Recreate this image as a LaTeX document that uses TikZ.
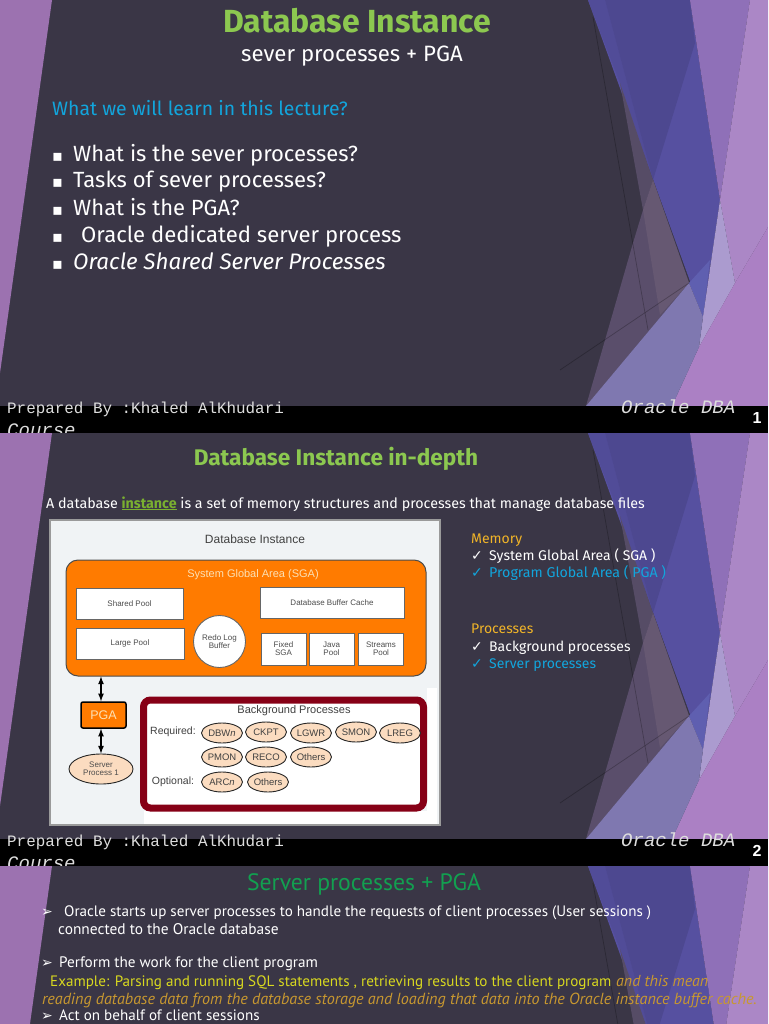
\documentclass[tikz,border=0pt]{standalone}
\usepackage{fontspec}
\usepackage{xcolor}
\usepackage{tikz}
\usetikzlibrary{calc}
\usetikzlibrary{arrows}
\usetikzlibrary{shapes.geometric}
\setmainfont{Fira Sans}
\newfontfamily\narrowfont{PT Sans}
\newfontfamily\symfont{DejaVu Sans}
\newfontfamily\monofont{Liberation Mono}
\newfontfamily\diagfont{Liberation Sans}
\definecolor{slidebg}{HTML}{3A3646}
\definecolor{leftband}{HTML}{9C72B0}
\definecolor{blueone}{HTML}{5650A0}
\definecolor{bluetwo}{HTML}{4D4890}
\definecolor{blueedge}{HTML}{514C98}
\definecolor{bluelow}{HTML}{5F5FB0}
\definecolor{purpleone}{HTML}{8F70B8}
\definecolor{purpletwo}{HTML}{AB87C6}
\definecolor{palepurple}{HTML}{AB9BCF}
\definecolor{pinkone}{HTML}{AB80C4}
\definecolor{lavender}{HTML}{7F78B0}
\definecolor{mauveone}{HTML}{5A4E6B}
\definecolor{mauvetwo}{HTML}{564C66}
\definecolor{mauvethree}{HTML}{665872}
\definecolor{titlegreen}{HTML}{8CC850}
\definecolor{deepgreen}{HTML}{12A050}
\definecolor{linkblue}{HTML}{12A5DC}
\definecolor{headgold}{HTML}{F0B428}
\definecolor{examplegold}{HTML}{D8D820}
\definecolor{italicgold}{HTML}{C89830}
\definecolor{instgreen}{HTML}{7AB030}
\definecolor{footgrey}{HTML}{DDDDDD}
\definecolor{panelgrey}{HTML}{F0F3F5}
\definecolor{panelline}{HTML}{9A9A9A}
\definecolor{sgaorange}{HTML}{FF7B00}
\definecolor{sgatext}{HTML}{FCE0B4}
\definecolor{maroonbox}{HTML}{860016}
\definecolor{peach}{HTML}{FBDCC0}
\def\fs#1{\fontsize{#1}{#1}\selectfont}
\def\slideback#1{
	\begin{scope}[shift={(0,#1)}]
		\fill[slidebg] (0,0) rectangle (768,433);
		\fill[leftband] (0,0)--(52,0)--(0,373)--cycle;
		\fill[blueone] (588,0)--(690,0)--(720,200)--(703,317)--cycle;
		\fill[blueedge] (588,0)--(605,0)--(653,180)--(620,83)--cycle;
		\fill[bluetwo] (605,0)--(690,0)--(695,43)--(653,180)--cycle;
		\fill[bluelow] (689,283)--(710,260)--(703,317)--cycle;
		\fill[purpleone] (690,0)--(750,0)--(720,200)--cycle;
		\fill[purpletwo] (750,0)--(768,0)--(768,227)--(735,283)--(720,200)--cycle;
		\fill[palepurple] (720,200)--(735,283)--(699,347)--(703,317)--cycle;
		\fill[pinkone] (735,283)--(768,227)--(768,406)--(672,406)--(699,347)--cycle;
		\fill[mauvetwo] (620,83)--(653,180)--(643,210)--cycle;
		\fill[mauveone] (653,180)--(689,283)--(586,406)--(633,243)--(643,210)--cycle;
		\fill[mauvethree] (653,180)--(689,283)--(660,315)--(643,210)--cycle;
		\fill[lavender] (586,406)--(689,283)--(703,317)--(699,347)--(672,406)--cycle;
		\draw[black,opacity=0.25,line width=0.7pt] (593,17)--(648,330);
		\draw[black,opacity=0.25,line width=0.7pt] (560,370)--(689,283);
	\end{scope}
}
\def\slidefoot#1#2{
	\begin{scope}[shift={(0,#1)}]
		\fill[black] (0,406) rectangle (768,433);
		\node[foottext] (prepared#2) at (7,413) {\fs{15.9}Prepared By :Khaled AlKhudari};
		\node[foottext] (oracle#2) at (621,413) {\fs{19}\itshape Oracle DBA};
		\node[foottext] (course#2) at (7,436) {\fs{19}\itshape Course};
		\node[anchor=center,inner sep=0pt,text=white] (pagenum#2) at (757,418) {\fontspec{Liberation Sans}\fs{16}\bfseries #2};
	\end{scope}
}
\tikzset{
	txt/.style={anchor=base west,inner sep=0pt,text=white},
	midtxt/.style={anchor=base,inner sep=0pt},
	foottext/.style={anchor=base west,inner sep=0pt,text=footgrey,font=\monofont},
	whitebox/.style={draw=black!60,line width=0.9pt,fill=white,inner sep=0pt,font=\diagfont\fs{8},text=black!70,align=center},
	procoval/.style={draw=black!85,line width=0.9pt,fill=peach,ellipse,inner sep=0pt,minimum width=41pt,minimum height=20pt,font=\diagfont\fs{9.5},text=black!75},
	twoway/.style={latex-latex,line width=1.6pt,black},
}
\begin{document}
\begin{tikzpicture}[x=1pt,y=-1pt]
	\useasboundingbox (0,0) rectangle (768,1024);
	\clip (0,0) rectangle (768,1024);
	\slideback{0}
	\node[midtxt,text=titlegreen] (titleone) at (357,33) {\fs{32}\bfseries Database Instance};
	\node[midtxt,text=white] (subtitle) at (352,62) {\fs{22.2}sever processes + PGA};
	\node[txt,text=linkblue] (learn) at (52,116) {\fs{19.4}What we will learn in this lecture?};
	\node[txt] (bulleta) at (52,162) {\fs{16}\symfont ▪};
	\node[txt] (bulletb) at (52,188) {\fs{16}\symfont ▪};
	\node[txt] (bulletc) at (52,215) {\fs{16}\symfont ▪};
	\node[txt] (bulletd) at (52,242) {\fs{16}\symfont ▪};
	\node[txt] (bullete) at (52,269) {\fs{16}\symfont ▪};
	\node[txt] (itema) at (73,162) {\fs{22}What is the sever processes?};
	\node[txt] (itemb) at (73,188) {\fs{22}Tasks of sever processes?};
	\node[txt] (itemc) at (73,215) {\fs{22}What is the PGA?};
	\node[txt] (itemd) at (81,242) {\fs{22.1}Oracle dedicated server process};
	\node[txt] (iteme) at (73,269) {\fs{22.4}\itshape Oracle Shared Server Processes};
	\slidefoot{0}{1}
	\slideback{433}
	\node[midtxt,text=titlegreen] (titletwo) at (336,465) {\fs{22.6}\bfseries Database Instance in-depth};
	\node[txt] (instline) at (46,508) {\fs{14.3}A database \textcolor{instgreen}{\bfseries\underline{instance}} is a set of memory structures and processes that manage database files};
	\node[txt,text=headgold] (memhead) at (471,543) {\fs{14}Memory};
	\node[txt] (checka) at (471,560) {\fs{14}\symfont ✓};
	\node[txt] (mema) at (489,560) {\fs{14}System Global Area ( SGA )};
	\node[txt,text=linkblue] (checkb) at (471,577) {\fs{14}\symfont ✓};
	\node[txt,text=linkblue] (memb) at (489,577) {\fs{14.2}Program Global Area ( PGA )};
	\node[txt,text=headgold] (prochead) at (471,633) {\fs{14}Processes};
	\node[txt] (checkc) at (471,651) {\fs{14}\symfont ✓};
	\node[txt] (proca) at (489,651) {\fs{14}Background processes};
	\node[txt,text=linkblue] (checkd) at (471,668) {\fs{14}\symfont ✓};
	\node[txt,text=linkblue] (procb) at (489,668) {\fs{14}Server processes};
	\fill[panelgrey,draw=panelline,line width=2pt] (50,520) rectangle (440,825);
	\fill[white] (427,688) rectangle (437,824);
	\fill[white] (144,811) rectangle (437,824);
	\node[midtxt,font=\diagfont\fs{12},text=black!75] (dbinst) at (255,543) {Database Instance};
	\node[draw=black!70,line width=1pt,fill=sgaorange,rounded corners=12pt,minimum width=360pt,minimum height=116pt,inner sep=0pt] (sga) at (246,618) {};
	\node[midtxt,font=\diagfont\fs{11},text=sgatext] (sgatitle) at (253,577) {System Global Area (SGA)};
	\node[whitebox,minimum width=107pt,minimum height=31pt] (shared) at (129.5,603.5) {Shared Pool};
	\node[whitebox,minimum width=108pt,minimum height=31pt] (large) at (130,643.5) {Large Pool};
	\node[whitebox,minimum width=144pt,minimum height=31pt] (buffer) at (332,602.5) {Database Buffer Cache};
	\node[whitebox,circle,minimum size=52pt] (redo) at (219.5,641.5) {Redo Log\\Buffer};
	\node[whitebox,minimum width=45pt,minimum height=32pt] (fixed) at (283.5,649) {Fixed\\SGA};
	\node[whitebox,minimum width=45pt,minimum height=32pt] (java) at (331.5,649) {Java\\Pool};
	\node[whitebox,minimum width=45pt,minimum height=32pt] (streams) at (381,649) {Streams\\Pool};
	\node[draw=black,line width=1.5pt,fill=sgaorange,rounded corners=2pt,minimum width=45pt,minimum height=26pt,inner sep=0pt,font=\diagfont\fs{12.5},text=sgatext] (pga) at (103.5,715) {PGA};
	\node[draw=black!85,line width=0.9pt,fill=peach,ellipse,inner sep=0pt,minimum width=64pt,minimum height=30pt,font=\diagfont\fs{8},text=black!70,align=center] (server) at (101,769) {Server\\Process 1};
	\draw[twoway] (sga.south -| 101,0)--(pga.north -| 101,0);
	\draw[twoway] (pga.south -| 101,0)--(server.north);
	\node[draw=maroonbox,line width=7pt,fill=white,rounded corners=7pt,minimum width=280pt,minimum height=108pt,inner sep=0pt] (bgproc) at (283.5,754) {};
	\node[midtxt,font=\diagfont\fs{11},text=black!75] (bgtitle) at (294,713) {Background Processes};
	\node[midtxt,font=\diagfont\fs{10.5},text=black!75] (required) at (173,734) {Required:};
	\node[midtxt,font=\diagfont\fs{10.5},text=black!75] (optional) at (173,784) {Optional:};
	\node[procoval] (dbwn) at (222,733) {DBW\textit{n}};
	\node[procoval] (ckpt) at (266,732) {CKPT};
	\node[procoval] (lgwr) at (311,733) {LGWR};
	\node[procoval] (smon) at (356,732) {SMON};
	\node[procoval] (lreg) at (400,733) {LREG};
	\node[procoval] (pmon) at (222,757) {PMON};
	\node[procoval] (reco) at (266,757) {RECO};
	\node[procoval] (othersa) at (311,757) {Others};
	\node[procoval] (arcn) at (222,782) {ARC\textit{n}};
	\node[procoval] (othersb) at (268,782) {Others};
	\slidefoot{433}{2}
	\slideback{866}
	\node[midtxt,text=deepgreen] (titlethree) at (364,890) {\fs{23.7}\narrowfont Server processes + PGA};
	\node[txt] (arrowa) at (41,916) {\fs{14}\symfont\bfseries ➢};
	\node[txt] (linea) at (64,916) {\fs{15.1}\narrowfont Oracle starts up server processes to handle the requests of client processes (User sessions )};
	\node[txt] (lineb) at (58,934) {\fs{15.4}\narrowfont connected to the Oracle database};
	\node[txt] (arrowb) at (41,967) {\fs{14}\symfont\bfseries ➢};
	\node[txt] (linec) at (59,967) {\fs{15.2}\narrowfont Perform the work for the client program};
	\node[txt,text=examplegold] (lined) at (50,986) {\fs{15.1}\narrowfont Example: Parsing and running SQL statements , retrieving results to the client program};
	\node[txt,text=italicgold] (linee) at (616,986) {\fs{15.9}\narrowfont\itshape and this mean};
	\node[txt,text=italicgold] (linef) at (42,1004) {\fs{16.1}\narrowfont\itshape reading database data from the database storage and loading that data into the Oracle instance buffer cache.};
	\node[txt] (arrowc) at (41,1020) {\fs{14}\symfont\bfseries ➢};
	\node[txt] (lineg) at (59,1020) {\fs{15.1}\narrowfont Act on behalf of client sessions};
\end{tikzpicture}
\end{document}
